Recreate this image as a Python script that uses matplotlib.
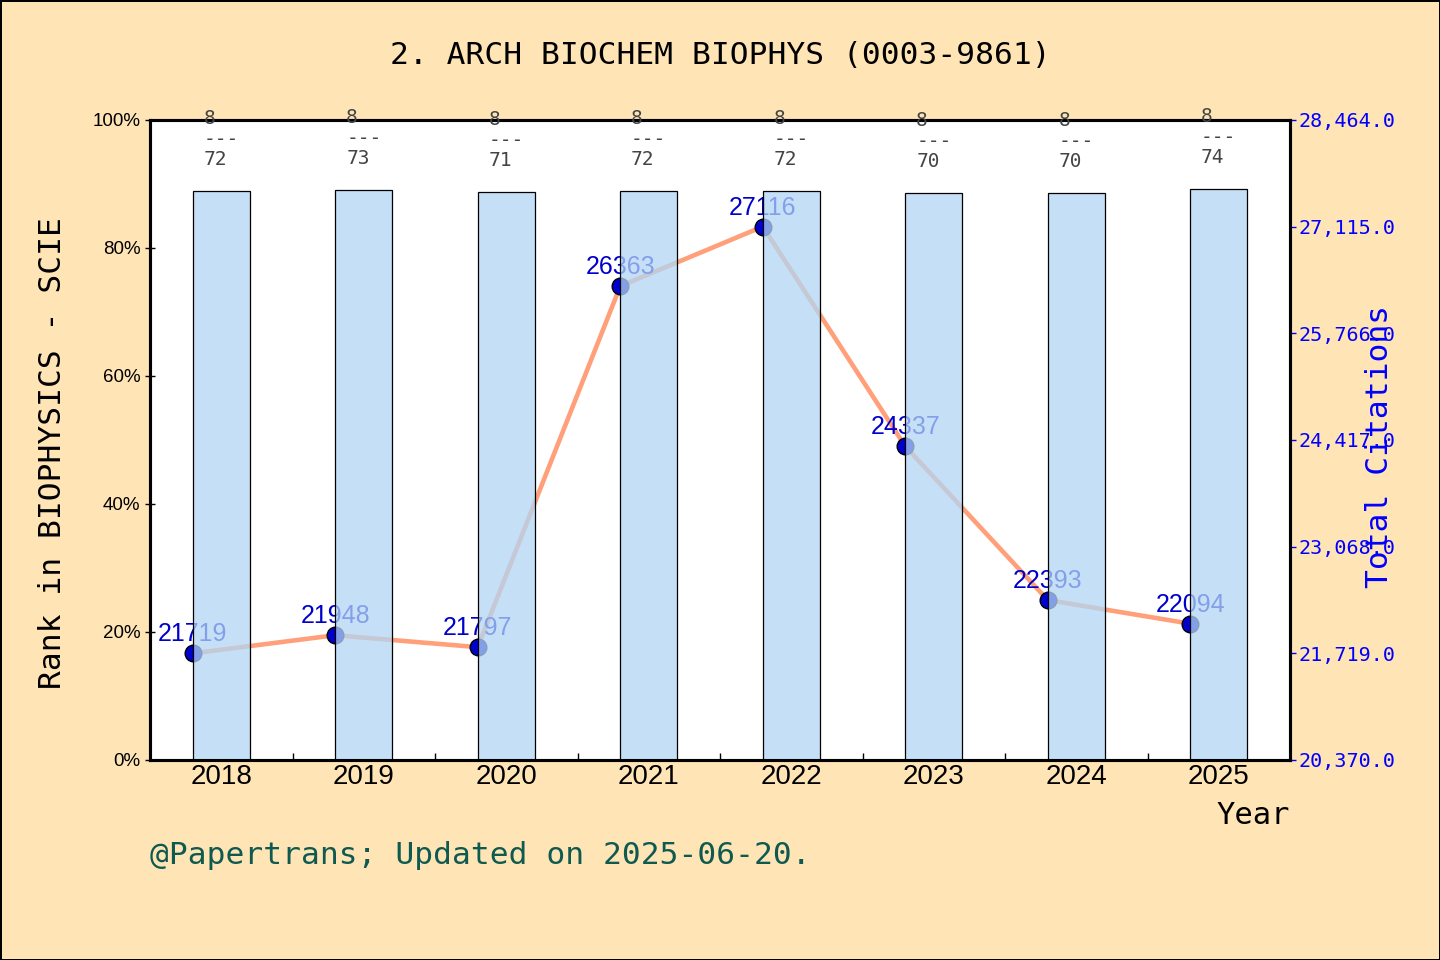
import matplotlib
matplotlib.use("Agg")
import matplotlib.pyplot as plt
from matplotlib.ticker import FuncFormatter, FixedLocator

# data
years = [2018, 2019, 2020, 2021, 2022, 2023, 2024, 2025]
rank = [8, 8, 8, 8, 8, 8, 8, 8]
total = [72, 73, 71, 72, 72, 70, 70, 74]
citations = [21719, 21948, 21797, 26363, 27116, 24337, 22393, 22094]
cite_ticks = [20370, 21719, 23068, 24417, 25766, 27115, 28464]
pct_ticks = [0, 0.2, 0.4, 0.6, 0.8, 1.0]

title = "2. ARCH BIOCHEM BIOPHYS (0003-9861)"
footer = "@Papertrans; Updated on 2025-06-20."

mono = "DejaVu Sans Mono"
sans = "Liberation Sans"
bg = "#FFE4B5"

fig = plt.figure(figsize=(14.4, 9.6), dpi=100)
fig.patch.set_facecolor(bg)
fig.patch.set_edgecolor("black")
fig.patch.set_linewidth(1.0)

ax1 = fig.add_axes([150 / 1440, 1 - 760 / 960, 1140 / 1440, 640 / 960])
ax2 = ax1.twinx()
# bars sit on top of the citation line, semi-transparent
ax1.set_zorder(ax2.get_zorder() + 1)
ax1.patch.set_visible(False)
ax2.patch.set_visible(True)
ax2.patch.set_facecolor("white")

idx = list(range(len(years)))
share = [1 - r / t for r, t in zip(rank, total)]

ax1.bar(idx, share, width=0.4, align="edge",
        facecolor=(178 / 255, 214 / 255, 244 / 255, 0.75),
        edgecolor="black", linewidth=0.9)
for i, h, r, t in zip(idx, share, rank, total):
    ax1.text(i + 0.2, h + 0.034, f"{r}\n---\n{t}", ha="center", va="bottom",
             multialignment="left", fontsize=14, family=mono, color="#444444",
             linespacing=1.1, clip_on=False)

ax1.set_ylim(0, 1)
ax1.set_xlim(-0.3, 7.7)
ax1.yaxis.set_major_locator(FixedLocator(pct_ticks))
ax1.yaxis.set_major_formatter(FuncFormatter(lambda v, p: f"{v * 100:.0f}%"))
ax1.set_xticks([i + 0.2 for i in idx])
ax1.set_xticklabels([str(y) for y in years], family=sans, fontsize=20)
ax1.set_xticks([i + 0.7 for i in idx[:-1]], minor=True)
ax1.tick_params(axis="x", which="major", length=0, pad=3)
ax1.tick_params(axis="x", which="minor", direction="in", length=5, width=1)
ax1.tick_params(axis="y", direction="inout", length=7, width=1, labelsize=13.5)
for lab in ax1.get_yticklabels():
    lab.set_family(sans)

ax1.set_ylabel("Rank in BIOPHYSICS - SCIE", family=mono, fontsize=22.5)
ax1.yaxis.set_label_coords(-0.073, 0.48)
ax1.set_xlabel("Year", family=mono, fontsize=22, loc="right")
ax1.xaxis.set_label_coords(1.0, -0.064)

# citation line
ax2.plot(idx, citations, color="#FFA07A", linewidth=3.3, zorder=2)
ax2.plot(idx, citations, linestyle="none", marker="o", markersize=12,
         markerfacecolor="mediumblue", markeredgecolor="black",
         markeredgewidth=1, zorder=3)
for i, c in zip(idx, citations):
    ax2.annotate(str(c), (i, c), xytext=(0, 5), textcoords="offset points",
                 ha="center", va="bottom", fontsize=18, family=sans,
                 color="mediumblue", zorder=4)

ax2.set_ylim(cite_ticks[0], cite_ticks[-1])
ax2.yaxis.set_major_locator(FixedLocator(cite_ticks))
ax2.yaxis.set_major_formatter(FuncFormatter(lambda v, p: f"{v:,.1f}"))
ax2.tick_params(axis="y", direction="out", length=4, width=1,
                colors="blue", labelsize=14.5, pad=2)
for lab in ax2.get_yticklabels():
    lab.set_family(mono)
ax2.set_ylabel("Total Citations", family=mono, fontsize=22.5, color="blue")
ax2.yaxis.set_label_coords(1.066, 0.49)

for ax in (ax1, ax2):
    for s in ax.spines.values():
        s.set_linewidth(2.2)
        s.set_color("black")

fig.text(0.5, 1 - 56 / 960, title, ha="center", va="center",
         family=mono, fontsize=22.5, color="black")
fig.text(150 / 1440, 1 - 855 / 960, footer, ha="left", va="center",
         family=mono, fontsize=22.5, color="#0E5A50")

fig.savefig("out.png", dpi=100, facecolor=fig.get_facecolor(),
            edgecolor=fig.get_edgecolor())
